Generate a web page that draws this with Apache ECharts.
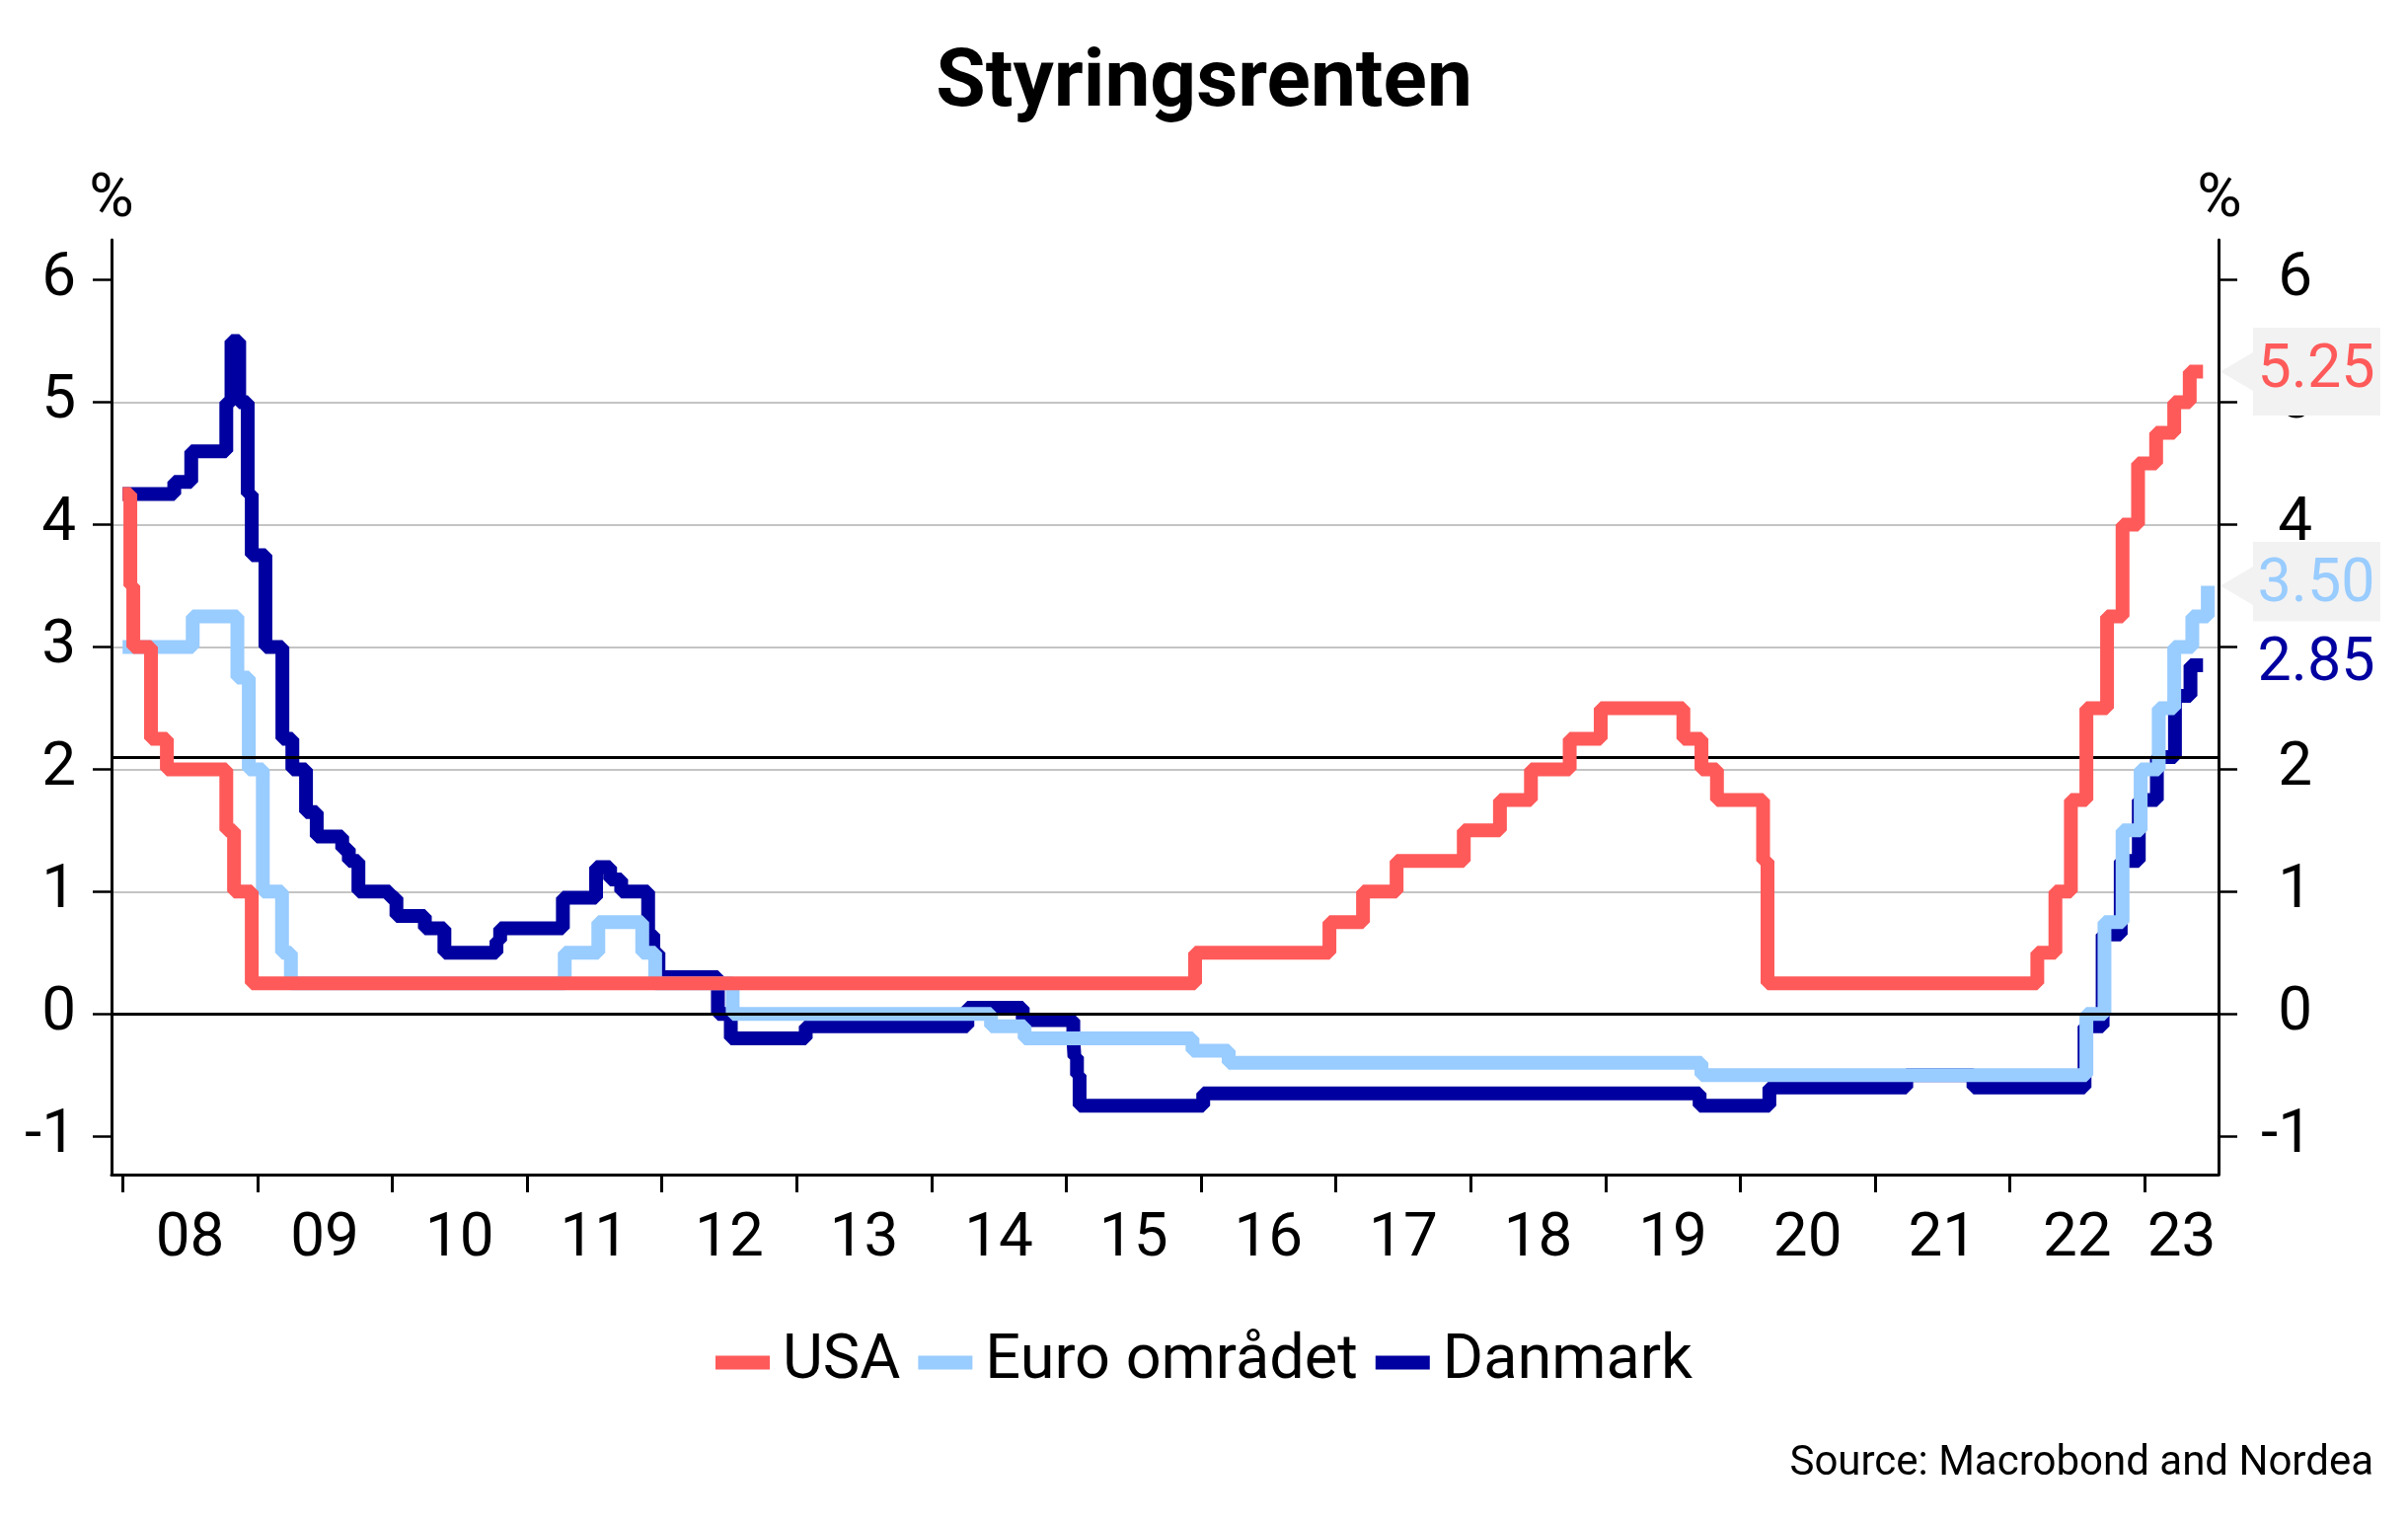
<!DOCTYPE html>
<html>
<head>
<meta charset="utf-8">
<script src="https://cdn.jsdelivr.net/npm/echarts@6/dist/echarts.min.js"></script>
<style>
html,body{margin:0;padding:0;background:#fff;}
#chart{width:2440px;height:1543px;}
</style>
</head>
<body>
<div id="chart"></div>
<script>
// ---------- DATA ----------
const usaDates = ['2008-01-01','2008-01-22','2008-01-30','2008-03-18','2008-04-30','2008-10-08','2008-10-29','2008-12-16',
  '2015-12-16','2016-12-14','2017-03-15','2017-06-14','2017-12-13','2018-03-21','2018-06-13','2018-09-26','2018-12-19',
  '2019-07-31','2019-09-18','2019-10-30','2020-03-03','2020-03-15',
  '2022-03-16','2022-05-04','2022-06-15','2022-07-27','2022-09-21','2022-11-02','2022-12-14',
  '2023-02-01','2023-03-22','2023-05-03','2023-06-08'];
const usaRates = [4.25,3.5,3.0,2.25,2.0,1.5,1.0,0.25,
  0.5,0.75,1.0,1.25,1.5,1.75,2.0,2.25,2.5,
  2.25,2.0,1.75,1.25,0.25,
  0.5,1.0,1.75,2.5,3.25,4.0,4.5,
  4.75,5.0,5.25,5.25];

const euroDates = ['2008-01-01','2008-07-09','2008-11-07','2008-12-08','2009-01-15','2009-03-08','2009-04-01',
  '2011-04-13','2011-07-13','2011-11-09','2011-12-14','2012-07-11','2014-06-11','2014-09-10',
  '2015-12-09','2016-03-16','2019-09-18',
  '2022-07-27','2022-09-14','2022-11-02','2022-12-21','2023-02-08','2023-03-22','2023-05-10','2023-06-21'];
const euroRates = [3.0,3.25,2.75,2.0,1.0,0.5,0.25,
  0.5,0.75,0.5,0.25,0.0,-0.1,-0.2,
  -0.3,-0.4,-0.5,
  0.0,0.75,1.5,2.0,2.5,3.0,3.25,3.5];

const dkDates = ['2008-01-01','2008-05-20','2008-07-05','2008-10-08','2008-10-22','2008-11-12','2008-12-05','2008-12-16',
  '2009-01-22','2009-03-09','2009-04-05','2009-05-12','2009-06-10','2009-08-18','2009-09-05','2009-10-01','2009-12-25',
  '2010-01-12','2010-03-30','2010-05-22','2010-10-10','2010-10-20',
  '2011-04-08','2011-07-07','2011-08-14','2011-09-13','2011-11-25','2011-12-09','2011-12-23',
  '2012-06-01','2012-07-06','2013-01-25','2014-04-08','2014-09-05',
  '2015-01-20','2015-01-23','2015-01-30','2015-02-06','2016-01-07','2019-09-13',
  '2020-03-20','2021-03-26','2021-09-24',
  '2022-07-22','2022-09-09','2022-10-28','2022-12-16','2023-02-03','2023-03-24','2023-05-05','2023-06-08'];
const dkRates = [4.25,4.35,4.6,5.0,5.5,5.0,4.25,3.75,
  3.0,2.25,2.0,1.65,1.45,1.35,1.25,1.0,0.95,
  0.8,0.7,0.5,0.6,0.7,
  0.95,1.2,1.1,1.0,0.65,0.5,0.3,
  0.0,-0.2,-0.1,0.05,-0.05,
  -0.2,-0.35,-0.5,-0.75,-0.65,-0.75,
  -0.6,-0.5,-0.6,
  -0.1,0.65,1.25,1.75,2.1,2.6,2.85,2.85];

const seriesNames = ['USA','Euro området','Danmark'];
const xTickYears = [2008,2009,2010,2011,2012,2013,2014,2015,2016,2017,2018,2019,2020,2021,2022,2023];
const yTicks = [-1,0,1,2,3,4,5,6];
const xMin = '2007-12-02';
const xMax = '2023-07-20';
const yMin = -1.313;
const yMax = 6.328;
const zeroLine = 0;
const blackLine = 2.1;

// ---------- STYLE ----------
const RED = '#ff5a5a';
const LIGHT = '#99ccff';
const DARK = '#0000a0';
const FONT = 'Roboto';
const LW = 14;

function toTs(s){ const p = s.split('-'); return new Date(+p[0], +p[1]-1, +p[2]).getTime(); }
function yearFrac(s){
  const t = toTs(s); const y = +s.slice(0,4);
  const a = new Date(y,0,1).getTime(), b = new Date(y+1,0,1).getTime();
  return y + (t - a) / (b - a);
}
function zip(d, v){ return d.map((x,i)=>[x, v[i]]); }
const xMinFrac = yearFrac(xMin);
const xMaxFrac = yearFrac(xMax);
const lastYear = xTickYears[xTickYears.length-1];
// label anchors: middle of each visible year band
const xLabelPos = xTickYears.map(y => y === lastYear ? (y + xMaxFrac) / 2 : y + 0.5);

const calloutPath = 'path://M0,44.5L33,25L33,0L162,0L162,89L33,89L33,64Z';
function callout(value, color, bg){
  return {
    silent: true,
    symbol: calloutPath,
    symbolSize: [162, 89],
    symbolKeepAspect: false,
    symbolOffset: [83, 0],
    itemStyle: {color: bg},
    label: {show: true, position: 'inside', offset: [16, 0], color: color,
      fontSize: 61, fontFamily: FONT, formatter: p => Number(p.value).toFixed(2)},
    data: [{coord: [xMax, value], value: value}]
  };
}

const chart = echarts.init(document.getElementById('chart'), null, {renderer: 'canvas'});
const option = {
  backgroundColor: '#ffffff',
  animation: false,
  title: [
    {text: 'Styringsrenten', left: 'center', top: 40,
     textStyle: {fontFamily: FONT, fontSize: 82, fontWeight: 'bold', color: '#000'}},
    {text: 'Source: Macrobond and Nordea', right: 30, top: 1457,
     textStyle: {fontFamily: FONT, fontSize: 42, fontWeight: 'normal', color: '#000'}}
  ],
  legend: {
    data: seriesNames, left: 'center', top: 1344, icon: 'rect',
    itemWidth: 55, itemHeight: 14, itemGap: 18,
    textStyle: {fontFamily: FONT, fontSize: 63, color: '#000', padding: [0,0,0,8]}
  },
  grid: {left: 113, right: 192, top: 243, bottom: 353, containLabel: false},
  xAxis: [
    {
      type: 'time', min: xMin, max: xMax, position: 'bottom',
      axisLine: {show: true, onZero: false, lineStyle: {color: '#000', width: 3}},
      axisTick: {show: false},
      axisLabel: {show: false},
      splitLine: {show: false}
    },
    {
      type: 'value', min: xMinFrac, max: xMaxFrac, position: 'bottom', splitNumber: 16,
      axisLine: {show: false, onZero: false},
      axisTick: {show: true, inside: false, length: 18, customValues: xTickYears, lineStyle: {color: '#000', width: 3}},
      splitLine: {show: false},
      axisLabel: {
        customValues: xLabelPos, hideOverlap: false, margin: 35,
        fontFamily: FONT, fontSize: 62, color: '#000',
        formatter: v => String(Math.floor(v)).slice(2)
      }
    }
  ],
  yAxis: [
    {
      type: 'value', position: 'left', min: yMin, max: yMax, splitNumber: 7,
      name: '%', nameLocation: 'end', nameGap: 9,
      nameTextStyle: {fontFamily: FONT, fontSize: 62, color: '#000', align: 'center'},
      axisLine: {show: true, onZero: false, lineStyle: {color: '#000', width: 3}},
      axisTick: {show: true, inside: false, length: 19, customValues: yTicks, lineStyle: {color: '#000', width: 2.5}},
      axisLabel: {customValues: yTicks, margin: 36, fontFamily: FONT, fontSize: 62, color: '#000'},
      splitLine: {show: true, showMinLine: false, showMaxLine: false, lineStyle: {color: '#c4c4c4', width: 2}}
    },
    {
      type: 'value', position: 'right', min: yMin, max: yMax, splitNumber: 7,
      name: '%', nameLocation: 'end', nameGap: 9,
      nameTextStyle: {fontFamily: FONT, fontSize: 62, color: '#000', align: 'center', padding: [0,0,0,2]},
      axisLine: {show: true, onZero: false, lineStyle: {color: '#000', width: 3}},
      axisTick: {show: true, inside: false, length: 19, customValues: yTicks, lineStyle: {color: '#000', width: 2.5}},
      axisLabel: {customValues: yTicks, margin: 95, align: 'right', fontFamily: FONT, fontSize: 62, color: '#000'},
      splitLine: {show: false}
    }
  ],
  series: [
    {
      name: seriesNames[0], type: 'line', step: 'end', xAxisIndex: 0, yAxisIndex: 0, z: 5,
      symbol: 'none', showSymbol: false, data: zip(usaDates, usaRates),
      lineStyle: {color: RED, width: LW}, itemStyle: {color: RED},
      markLine: {silent: true, symbol: 'none', label: {show: false},
        lineStyle: {color: '#000', width: 3, type: 'solid'}, data: [{yAxis: blackLine}]},
      markPoint: callout(usaRates[usaRates.length-1], RED, '#f2f2f2')
    },
    {
      name: seriesNames[1], type: 'line', step: 'end', xAxisIndex: 0, yAxisIndex: 0, z: 4,
      symbol: 'none', showSymbol: false, data: zip(euroDates, euroRates),
      lineStyle: {color: LIGHT, width: LW}, itemStyle: {color: LIGHT},
      markPoint: callout(euroRates[euroRates.length-1], LIGHT, '#f2f2f2')
    },
    {
      name: seriesNames[2], type: 'line', step: 'end', xAxisIndex: 0, yAxisIndex: 0, z: 3,
      symbol: 'none', showSymbol: false, data: zip(dkDates, dkRates),
      lineStyle: {color: DARK, width: LW}, itemStyle: {color: DARK},
      markLine: {silent: true, symbol: 'none', label: {show: false},
        lineStyle: {color: '#000', width: 3, type: 'solid'}, data: [{yAxis: zeroLine}]},
      markPoint: callout(dkRates[dkRates.length-1], DARK, '#ffffff')
    }
  ]
};
chart.setOption(option);
</script>
</body>
</html>
